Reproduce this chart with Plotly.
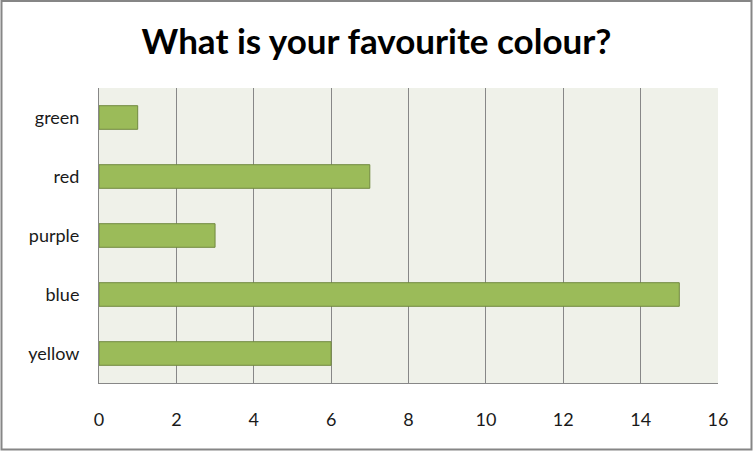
import plotly.graph_objects as go

# categories listed bottom -> top (plotly draws first category at the bottom)
colours = ["yellow", "blue", "purple", "red", "green"]
votes = [6, 15, 3, 7, 1]
x_ticks = [0, 2, 4, 6, 8, 10, 12, 14, 16]

W, H = 753, 451
ml, mr, mt, mb = 99, 35, 88, 68
pw, ph = W - ml - mr, H - mt - mb

fig = go.Figure()
fig.add_trace(go.Bar(
    y=colours, x=votes, orientation="h",
    marker=dict(color="#9BBB59", line=dict(color="#71893F", width=1)),
    hoverinfo="x+y",
))

fig.update_layout(
    width=W, height=H,
    margin=dict(l=ml, r=mr, t=mt, b=mb),
    paper_bgcolor="white",
    plot_bgcolor="#EFF1E9",
    bargap=0.6,
    showlegend=False,
    title=dict(text="<b>What is your favourite colour?</b>",
               x=0.5, xanchor="center", y=1 - 42 / H, yanchor="middle",
               font=dict(family="Lato", size=35, color="black")),
    font=dict(family="Lato", size=18, color="#1a1a1a"),
)
fig.update_xaxes(range=[0, 16], tickvals=x_ticks, showgrid=True,
                 gridcolor="#878787", gridwidth=1,
                 showline=True, linecolor="#878787", linewidth=1,
                 zeroline=False, ticks="", ticklabelstandoff=20, fixedrange=True)
fig.update_yaxes(showgrid=False, showline=True, linecolor="#878787", linewidth=1,
                 ticks="", ticklabelstandoff=15, fixedrange=True)

# outer chart border
fig.add_shape(type="rect", xref="paper", yref="paper",
              x0=(1.5 - ml) / pw, x1=(751.5 - ml) / pw,
              y0=(ph + mt - 449.5) / ph, y1=(ph + mt - 1) / ph,
              line=dict(color="#868686", width=2), fillcolor="rgba(0,0,0,0)",
              layer="above")

# drop the default page margin so the chart sits at the window's corner
fig.write_html("out.html", config={"displayModeBar": False},
               post_script="document.body.style.margin='0';")
